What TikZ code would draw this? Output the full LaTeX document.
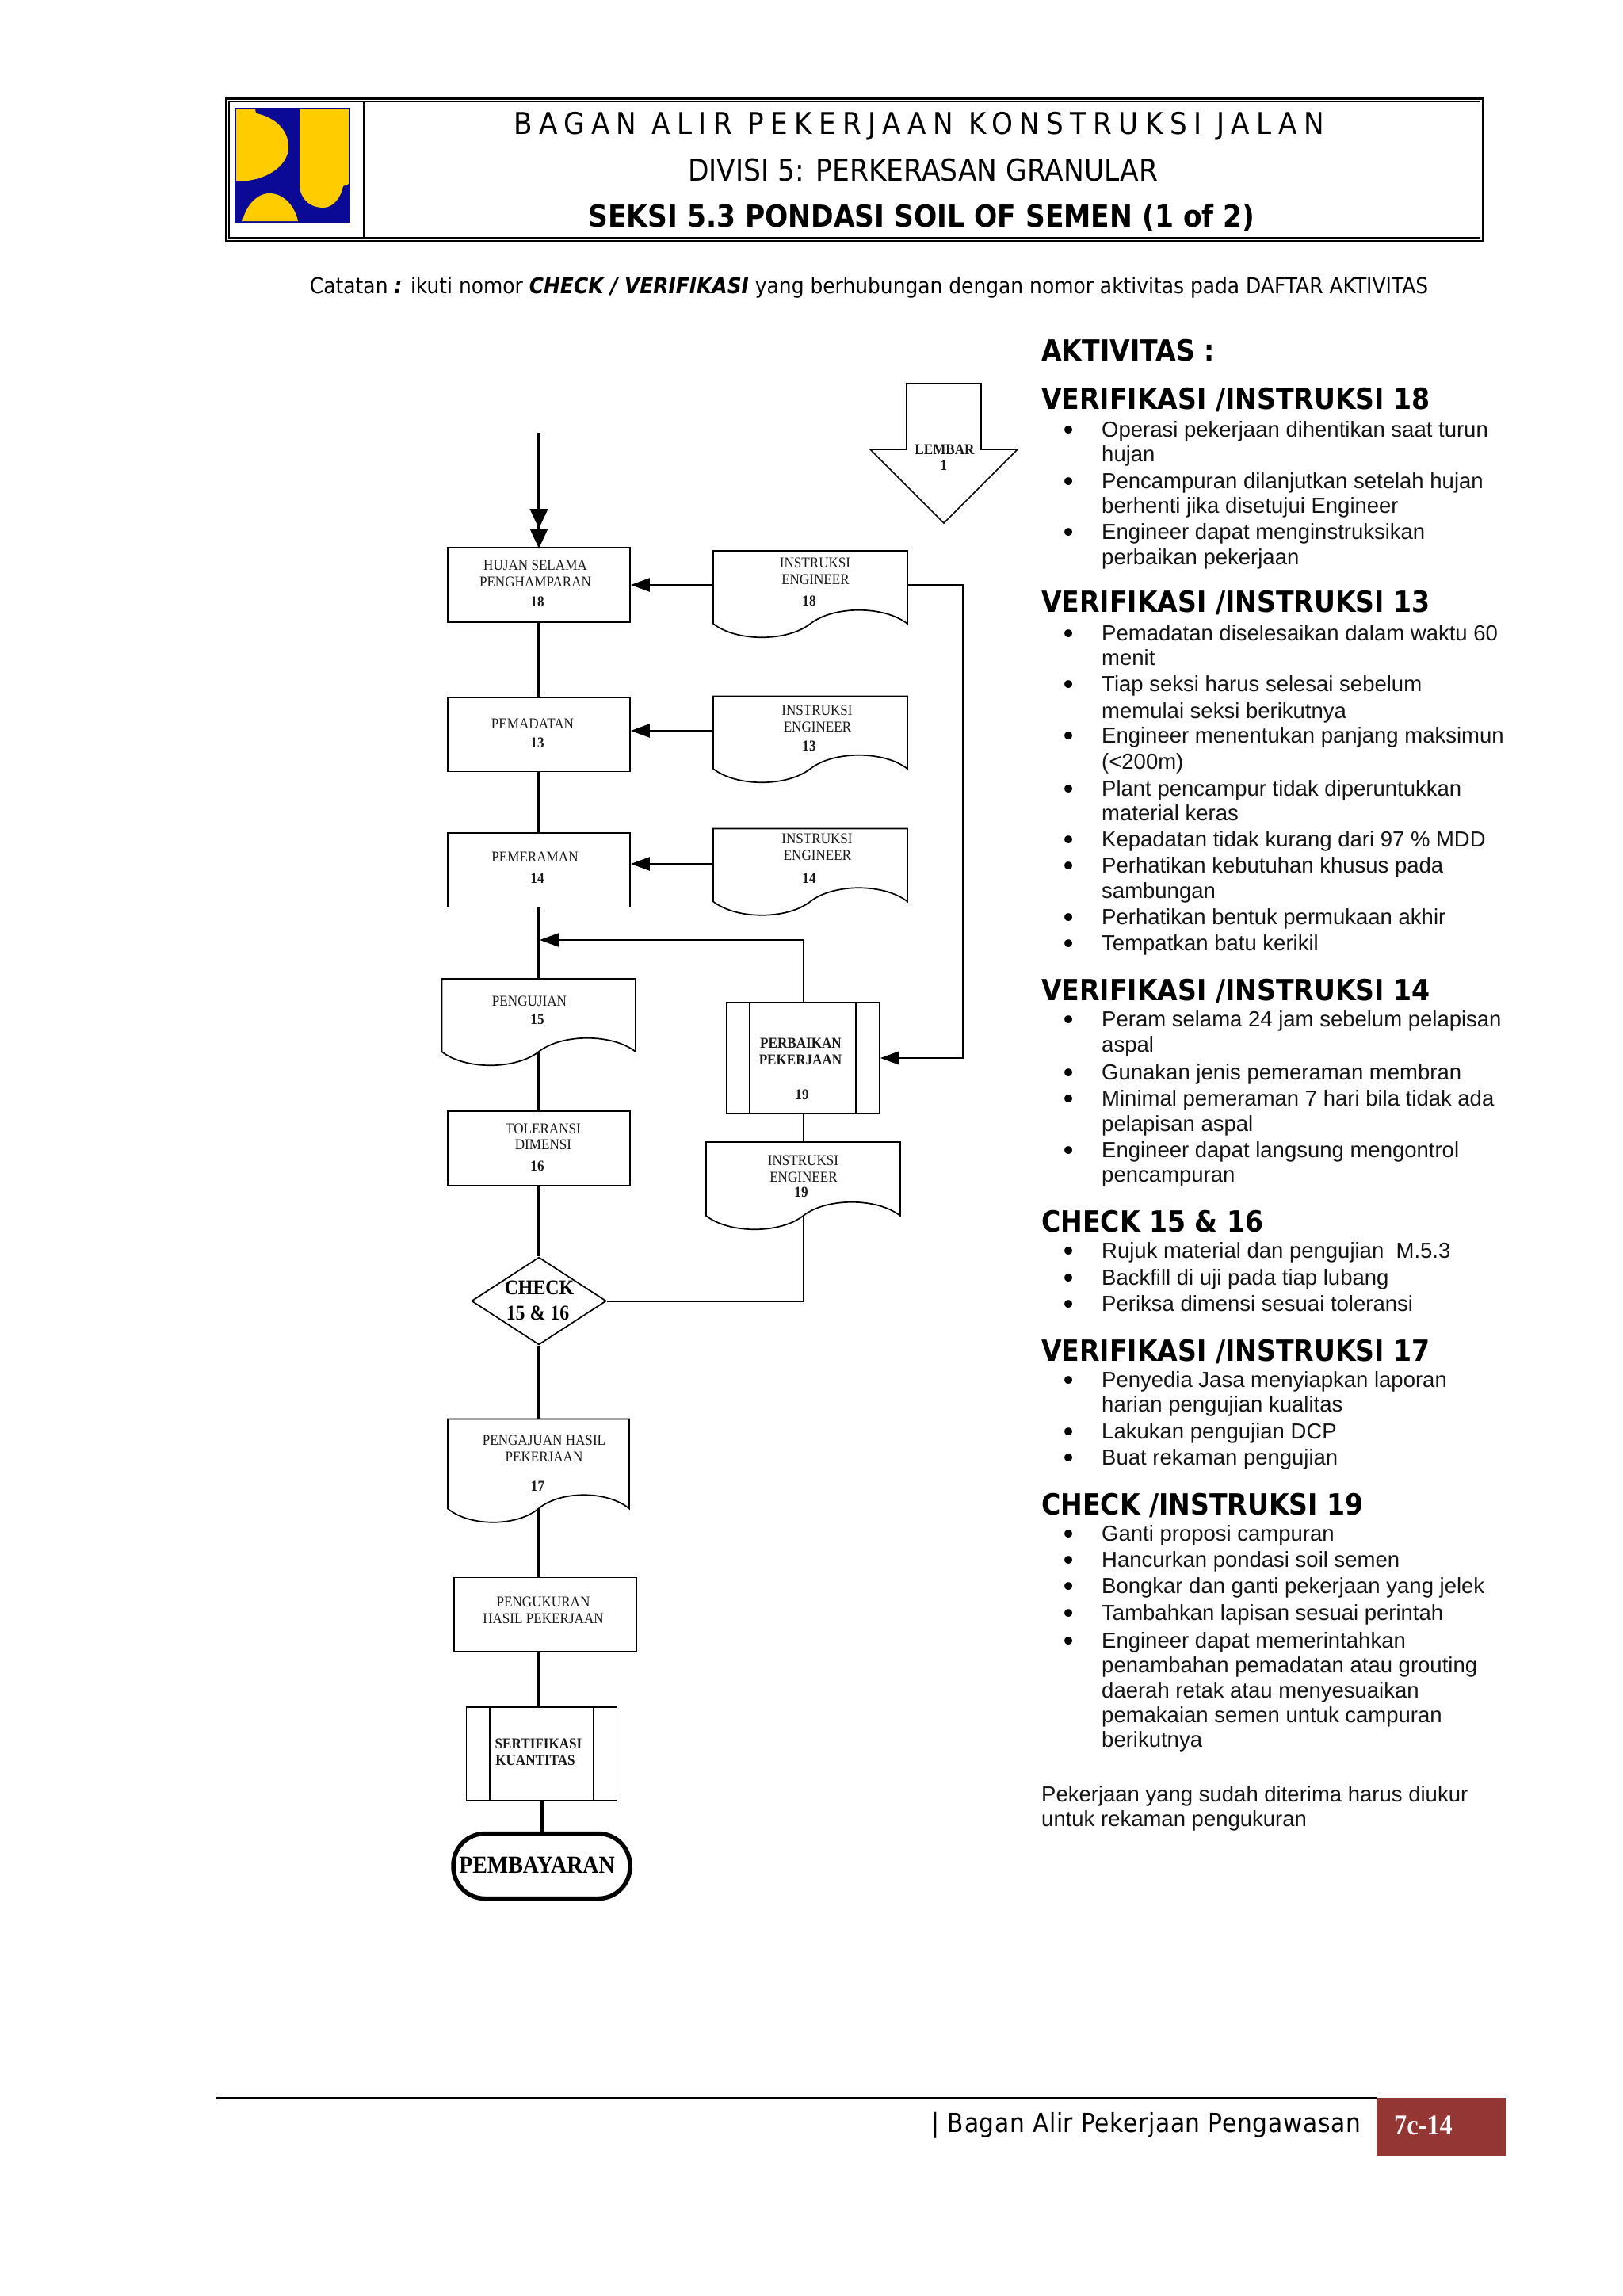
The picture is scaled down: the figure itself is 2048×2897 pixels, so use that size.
\documentclass[tikz,border=0pt]{standalone}
\usepackage{fontspec}
\setmainfont[FakeStretch=0.9]{Liberation Serif}
\newfontfamily\tah[FakeStretch=0.9]{DejaVu Sans}
\newfontfamily\ari{Liberation Sans}
\usetikzlibrary{arrows.meta,shapes.geometric}
\definecolor{pulogo}{RGB}{10,10,150}
\definecolor{puyel}{RGB}{255,204,0}
\definecolor{pagered}{RGB}{148,54,52}
\tikzset{
  flowbox/.style={draw,line width=1.7pt,inner sep=0pt},
  thin line/.style={line width=2pt},
  main line/.style={line width=4pt},
  tip/.style={-{Triangle[length=24pt,width=17pt]}},
  lab/.style={font=\fontsize{19}{21}\selectfont,inner sep=0pt,text=black!90},
  labb/.style={font=\fontsize{19}{21}\selectfont\bfseries,inner sep=0pt,text=black!90},
  rtext/.style={font=\ari\fontsize{27.5}{32}\selectfont,inner sep=0pt,anchor=base west,text=black!92},
  rbul/.style={font=\ari\fontsize{36}{32}\selectfont,inner sep=0pt,anchor=base west},
  rhead/.style={font=\tah\bfseries\fontsize{36.8}{40}\selectfont,inner sep=0pt,anchor=base west},
}
\newcounter{tc}
\newcommand{\cl}[2]{\stepcounter{tc}\node[rtext] (t\thetc) at ({1390},{#1*1.8476+10}) {#2};}
\newcommand{\bl}[2]{\stepcounter{tc}\node[rbul] (b\thetc) at ({1341.7},{#1*1.8476+13}) {\textbullet};\cl{#1}{#2}}
\newcommand{\hd}[2]{\stepcounter{tc}\node[rhead] (h\thetc) at ({1314},{#1*1.8476+13.5}) {#2};}
\newcommand{\para}[2]{\stepcounter{tc}\node[rtext] (p\thetc) at ({1314},{#1*1.8476+10}) {#2};}
% name, x1, x2, top, side-bottom, y of side connector
\newcommand{\docshape}[6]{%
  \node[inner sep=0pt,minimum width={#3-#2},minimum height={2*(#6-#4)}] (#1) at ({(#2+#3)/2},{#6}) {};
  \coordinate (#1-w) at ({(#2+#3)/2},{#5});
  \draw[line width=1.7pt,line join=miter]
    (#2,#5) -- (#2,#4) -- (#3,#4) -- (#3,#5)
    .. controls ({#3-0.12*(#3-#2)},{#5-23}) and ({#2+0.62*(#3-#2)},{#5-23}) .. (#1-w)
    .. controls ({#2+0.38*(#3-#2)},{#5+23}) and ({#2+0.12*(#3-#2)},{#5+23}) .. cycle;
}
\newcommand{\boxnode}[5]{%
  \node[flowbox,minimum width={#3-#2},minimum height={#5-#4}] (#1) at ({(#2+#3)/2},{(#4+#5)/2}) {};
}
\begin{document}
\begin{tikzpicture}[x=1pt,y=-1pt]
\useasboundingbox (0,0) rectangle (2048,2897);
\fill[white] (0,0) rectangle (2048,2897);

% ---- header
\draw[line width=2.5pt] (285.5,124.5) rectangle (1871,304);
\draw[line width=1.4pt] (289,128.5) rectangle (1867.5,300);
\draw[line width=1.4pt] (459,128.5) -- (459,300);
\fill[pulogo] (296,136) rectangle (441.7,281);
\fill[puyel] (298,138) -- (322,138) -- (323,143)
   .. controls (348,148) and (364,165) .. (364,185)
   .. controls (364,210) and (335,229) .. (298,229) -- cycle;
\fill[puyel] (378,138) -- (440,138) -- (440,232) -- (433,235)
   .. controls (430,250) and (420,262) .. (408,262)
   .. controls (390,262) and (378,250) .. (378,232) -- cycle;
\fill[puyel] (306,279) .. controls (310,260) and (324,244) .. (340,244)
   .. controls (358,244) and (372,260) .. (376,279) -- cycle;
\node[inner sep=0pt] (title1) at (1159.5,159.5) {\tah\addfontfeature{LetterSpace=22}\fontsize{38}{44}\selectfont BAGAN ALIR PEKERJAAN KONSTRUKSI JALAN};
\node[inner sep=0pt] (title2) at (1164.5,214.5) {\tah\fontsize{38.3}{44}\selectfont DIVISI 5: PERKERASAN GRANULAR};
\node[inner sep=0pt] (title3) at (1163,274) {\tah\bfseries\fontsize{38.3}{44}\selectfont SEKSI 5.3 PONDASI SOIL OF SEMEN (1 of 2)};
\node[inner sep=0pt] (note) at (1096.5,363) {\tah\fontsize{27.7}{32}\selectfont Catatan \textbf{\textit{:}} ikuti nomor \textbf{\textit{CHECK / VERIFIKASI}} yang berhubungan dengan nomor aktivitas pada DAFTAR AKTIVITAS};

% ---- flow shapes
\boxnode{hujan}{565}{795}{691}{785}
\boxnode{padat}{565}{795}{880}{973.5}
\boxnode{peram}{565}{795}{1051}{1144.5}
\boxnode{toler}{565}{795}{1402}{1496}
\boxnode{ukur}{573}{803.5}{1990.5}{2084}
\docshape{inst18}{900}{1145}{695}{787}{738}
\docshape{inst13}{900}{1145}{878.5}{970}{922}
\docshape{inst14}{900}{1145}{1045.5}{1137.5}{1090}
\docshape{uji}{557.5}{802}{1235}{1327}{1280}
\docshape{inst19}{891}{1136}{1441}{1534}{1488}
\docshape{aju}{565}{794}{1790.5}{1903.5}{1847}
\boxnode{perb}{917}{1110}{1265}{1405}
\draw[line width=1.7pt] (946,1265) -- (946,1405) (1080,1265) -- (1080,1405);
\boxnode{sert}{588.5}{778.5}{2154}{2272}
\draw[line width=1.7pt] (618,2154) -- (618,2272) (749,2154) -- (749,2272);
\node[draw,line width=1.7pt,diamond,aspect=1.54,inner sep=0pt,minimum width=170pt,minimum height=110.5pt] (dia) at (680,1641.5) {};
\node[draw,line width=5.5pt,rounded corners=40pt,inner sep=0pt,minimum width=223pt,minimum height=82pt] (bayar) at (683.5,2354.5) {};
\node[inner sep=0pt,minimum width=185pt,minimum height=176pt] (lembarbox) at (1191,572) {};
\draw[line width=1.7pt,line join=miter] (1144,484) -- (1238,484) -- (1238,567) -- (1284,567) -- (1191,660) -- (1098,567) -- (1144,567) -- cycle;

% ---- connectors
\coordinate (start) at (680,546);
\coordinate (joinpt) at (681,1186);
\coordinate (rtop) at (1215,738);
\coordinate (rbot) at (1215,1335);
\draw[main line,-{Triangle[length=25pt,width=22pt] Triangle[length=25pt,width=22pt,sep=-2pt]}] (start) -- (hujan.north -| start);
\draw[main line] (hujan.south -| start) -- (padat.north -| start);
\draw[main line] (padat.south -| start) -- (peram.north -| start);
\draw[main line] (peram.south -| start) -- (uji.north -| start);
\draw[main line] (uji-w) -- (toler.north -| start);
\draw[main line] (toler.south -| start) -- (dia.north);
\draw[main line] (dia.south) -- (aju.north -| start);
\draw[main line] (aju-w -| start) -- (ukur.north -| start);
\draw[main line] (ukur.south -| start) -- (sert.north -| start);
\draw[main line] (sert.south -| bayar.north) -- (bayar.north);
\draw[thin line,tip] (inst18.west) -- (inst18.west -| hujan.east);
\draw[thin line,tip] (inst13.west) -- (inst13.west -| padat.east);
\draw[thin line,tip] (inst14.west) -- (inst14.west -| peram.east);
\draw[thin line,tip] (inst18.east) -- (rtop) -- (rbot) -- (perb.east);
\draw[thin line,tip] (perb.north) |- (joinpt);
\draw[thin line] (perb.south) -- (inst19.north);
\draw[thin line] (dia.east) -| (inst19-w);

% ---- shape labels
\node[lab] (l1) at (675.5,713) {HUJAN SELAMA};
\node[lab] (l2) at (675.5,734) {PENGHAMPARAN};
\node[labb] (l3) at (678,759) {18};
\node[lab] (l4) at (1028.5,710.5) {INSTRUKSI};
\node[lab] (l5) at (1029,731) {ENGINEER};
\node[labb] (l6) at (1021,758) {18};
\node[lab] (l7) at (672,913) {PEMADATAN};
\node[labb] (l8) at (678,937) {13};
\node[lab] (l9) at (1031,896) {INSTRUKSI};
\node[lab] (l10) at (1031.5,917) {ENGINEER};
\node[labb] (l11) at (1021,941) {13};
\node[lab] (l12) at (675,1081.5) {PEMERAMAN};
\node[labb] (l13) at (678,1108) {14};
\node[lab] (l14) at (1031,1058) {INSTRUKSI};
\node[lab] (l15) at (1031.5,1079) {ENGINEER};
\node[labb] (l16) at (1021,1108) {14};
\node[labb] (l17) at (1192,567) {LEMBAR};
\node[labb] (l18) at (1191,587.5) {1};
\node[lab] (l19) at (668,1263) {PENGUJIAN};
\node[labb] (l20) at (678,1286.5) {15};
\node[lab] (l21) at (685.5,1424) {TOLERANSI};
\node[lab] (l22) at (685.5,1444.5) {DIMENSI};
\node[labb] (l23) at (678,1471.5) {16};
\node[labb] (l24) at (1010.5,1316.5) {PERBAIKAN};
\node[labb] (l25) at (1010,1337.5) {PEKERJAAN};
\node[labb] (l26) at (1012,1381.5) {19};
\node[lab] (l27) at (1013.5,1464) {INSTRUKSI};
\node[lab] (l28) at (1014,1485) {ENGINEER};
\node[labb] (l29) at (1011,1504) {19};
\node[inner sep=0pt,font=\fontsize{26.5}{30}\selectfont\bfseries] (l30) at (680.5,1625) {CHECK};
\node[inner sep=0pt,font=\fontsize{26.5}{30}\selectfont\bfseries] (l31) at (678.5,1656.5) {15 \& 16};
\node[lab] (l32) at (686.5,1817.5) {PENGAJUAN HASIL};
\node[lab] (l33) at (686.5,1838.5) {PEKERJAAN};
\node[labb] (l34) at (678.5,1875) {17};
\node[lab] (l35) at (685.5,2021.5) {PENGUKURAN};
\node[lab] (l36) at (685.5,2042.5) {HASIL PEKERJAAN};
\node[labb] (l37) at (679.5,2200.5) {SERTIFIKASI};
\node[labb] (l38) at (675.5,2221.5) {KUANTITAS};
\node[inner sep=0pt,font=\fontsize{31}{32}\selectfont\bfseries] (l39) at (677.5,2353.5) {PEMBAYARAN};

% ---- right column
\hd{239}{AKTIVITAS :}
\hd{272}{VERIFIKASI /INSTRUKSI 18}
\bl{293}{Operasi pekerjaan dihentikan saat turun}
\cl{310}{hujan}
\bl{328}{Pencampuran dilanjutkan setelah hujan}
\cl{345}{berhenti jika disetujui Engineer}
\bl{363}{Engineer dapat menginstruksikan}
\cl{380}{perbaikan pekerjaan}
\hd{411}{VERIFIKASI /INSTRUKSI 13}
\bl{432}{Pemadatan diselesaikan dalam waktu 60}
\cl{449}{menit}
\bl{467}{Tiap seksi harus selesai sebelum}
\cl{485}{memulai seksi berikutnya}
\bl{502}{Engineer menentukan panjang maksimun}
\cl{520}{(<200m)}
\bl{538}{Plant pencampur tidak diperuntukkan}
\cl{555}{material keras}
\bl{573}{Kepadatan tidak kurang dari 97 \% MDD}
\bl{591}{Perhatikan kebutuhan khusus pada}
\cl{608}{sambungan}
\bl{626}{Perhatikan bentuk permukaan akhir}
\bl{644}{Tempatkan batu kerikil}
\hd{676}{VERIFIKASI /INSTRUKSI 14}
\bl{696}{Peram selama 24 jam sebelum pelapisan}
\cl{713}{aspal}
\bl{732}{Gunakan jenis pemeraman membran}
\bl{750}{Minimal pemeraman 7 hari bila tidak ada}
\cl{767}{pelapisan aspal}
\bl{785}{Engineer dapat langsung mengontrol}
\cl{802}{pencampuran}
\hd{834}{CHECK 15 \& 16}
\bl{854}{Rujuk material dan pengujian\ \ M.5.3}
\bl{872}{Backfill di uji pada tiap lubang}
\bl{890}{Periksa dimensi sesuai toleransi}
\hd{922}{VERIFIKASI /INSTRUKSI 17}
\bl{942}{Penyedia Jasa menyiapkan laporan}
\cl{959}{harian pengujian kualitas}
\bl{977}{Lakukan pengujian DCP}
\bl{995}{Buat rekaman pengujian}
\hd{1027}{CHECK /INSTRUKSI 19}
\bl{1047}{Ganti proposi campuran}
\bl{1065}{Hancurkan pondasi soil semen}
\bl{1083}{Bongkar dan ganti pekerjaan yang jelek}
\bl{1101}{Tambahkan lapisan sesuai perintah}
\bl{1120}{Engineer dapat memerintahkan}
\cl{1137}{penambahan pemadatan atau grouting}
\cl{1154}{daerah retak atau menyesuaikan}
\cl{1171}{pemakaian semen untuk campuran}
\cl{1188}{berikutnya}
\para{1225}{Pekerjaan yang sudah diterima harus diukur}
\para{1242}{untuk rekaman pengukuran}

% ---- footer
\draw[line width=2.5pt] (273,2647.5) -- (1737,2647.5);
\node[fill=pagered,inner sep=0pt,minimum width=163pt,minimum height=73pt] (pagebox) at (1818.5,2683.5) {};
\node[inner sep=0pt,text=white,font=\fontsize{36}{38}\selectfont\bfseries] (pageno) at (1796,2682) {7c-14};
\node[inner sep=0pt,anchor=east] (foot) at (1717,2682) {\tah\addfontfeature{LetterSpace=2}\fontsize{33}{38}\selectfont | Bagan Alir Pekerjaan Pengawasan};
\end{tikzpicture}
\end{document}
